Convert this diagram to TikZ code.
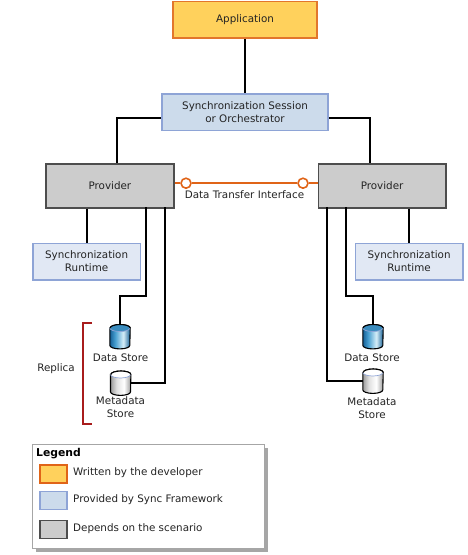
\documentclass[tikz,border=0pt]{standalone}
\usepackage{fontspec}
\setmainfont{DejaVu Sans}

\definecolor{appFill}{RGB}{255,209,92}
\definecolor{appLine}{RGB}{226,118,44}
\definecolor{fwFill}{RGB}{204,219,235}
\definecolor{fwLine}{RGB}{142,164,214}
\definecolor{rtFill}{RGB}{225,232,244}
\definecolor{provFill}{RGB}{204,204,204}
\definecolor{provLine}{RGB}{77,77,77}
\definecolor{iface}{RGB}{224,100,24}
\definecolor{bracket}{RGB}{168,28,28}
\definecolor{txt}{RGB}{35,35,35}
\definecolor{dataEdge}{RGB}{22,96,150}
\definecolor{dataMid}{RGB}{70,158,208}
\definecolor{dataHigh}{RGB}{214,238,248}
\definecolor{dataTop}{RGB}{58,140,190}
\definecolor{metaEdge}{RGB}{155,155,155}
\definecolor{metaMid}{RGB}{225,225,225}

\pgfdeclarehorizontalshading{dataBody}{100bp}{color(0bp)=(dataEdge); color(25bp)=(dataEdge);
  color(38bp)=(dataMid); color(58bp)=(dataHigh); color(75bp)=(dataEdge); color(100bp)=(dataEdge)}
\pgfdeclarehorizontalshading{metaBody}{100bp}{color(0bp)=(metaEdge); color(25bp)=(metaEdge);
  color(40bp)=(metaMid); color(58bp)=(white); color(75bp)=(metaEdge); color(100bp)=(metaEdge)}

\tikzset{
  label text/.style={font=\fontsize{10.35}{13}\selectfont, text=txt, align=center, inner sep=0pt},
  box/.style={draw, line width=1.7pt, anchor=north west, label text},
  conn/.style={black, line width=1.8pt},
  store/.style={minimum width=20pt, minimum height=24pt, inner sep=0pt, anchor=north},
  swatch/.style={draw, line width=1.7pt, minimum width=27pt, minimum height=18pt, inner sep=0pt, anchor=north west},
  socket/.style={circle, draw=iface, fill=white, line width=1.6pt, minimum size=10pt, inner sep=0pt}
}

% #1 node name, #2 body shading, #3 top colour
\newcommand{\storeShape}[3]{
  \draw[black, line width=1.1pt, shading=#2]
    ([yshift=-3.5pt]#1.north west) -- ([yshift=3.5pt]#1.south west) arc (180:360:10pt and 3.5pt)
    -- ([yshift=-3.5pt]#1.north east) arc (0:180:10pt and 3.5pt) -- cycle;
  \fill[#3] ([yshift=-3.5pt]#1.north west) arc (180:360:10pt and 3.5pt) arc (0:180:10pt and 3.5pt) -- cycle;
  \draw[fwLine, line width=.7pt]
    ([yshift=-3.5pt]#1.north west) arc (180:360:10pt and 3.5pt);
  \draw[black, line width=1.1pt]
    ([yshift=-3.5pt]#1.north east) arc (0:180:10pt and 3.5pt);
}

\begin{document}
\begin{tikzpicture}[x=1pt,y=-1pt,line cap=butt,line join=miter]

\path[use as bounding box] (0,0) rectangle (467,555);

% boxes
\node[box, fill=appFill, draw=appLine, minimum width=144pt, minimum height=36.5pt] (app) at (172.2,.6) {Application};
\node[box, fill=fwFill, draw=fwLine, minimum width=166pt, minimum height=36.5pt] (sess) at (161.2,93.2) {Synchronization Session\\or Orchestrator};
\node[box, fill=provFill, draw=provLine, minimum width=127.5pt, minimum height=44pt] (provL) at (45.3,163.2) {Provider};
\node[box, fill=provFill, draw=provLine, minimum width=127.5pt, minimum height=44pt] (provR) at (317.5,163.2) {Provider};
\node[box, fill=rtFill, draw=fwLine, minimum width=107.5pt, minimum height=36.5pt] (rtL) at (32,242.5) {Synchronization\\Runtime};
\node[box, fill=rtFill, draw=fwLine, minimum width=107.5pt, minimum height=36.5pt] (rtR) at (354.5,242.5) {Synchronization\\Runtime};

% stores
\node[store] (dataL) at (120,324.5) {};
\node[store] (metaL) at (120.7,371) {};
\node[store] (dataR) at (373,324.5) {};
\node[store] (metaR) at (373,369) {};
\storeShape{dataL}{dataBody}{dataTop}
\storeShape{metaL}{metaBody}{white}
\storeShape{dataR}{dataBody}{dataTop}
\storeShape{metaR}{metaBody}{white}

% store labels
\node[label text] (dataLbl) at (120.5,357.5) {Data Store};
\node[label text] (metaLbl) at (120.5,407.5) {Metadata\\Store};
\node[label text] (dataRLbl) at (372,358) {Data Store};
\node[label text] (metaRLbl) at (372,408.5) {Metadata\\Store};

% connectors
\coordinate (provLtop) at (116.6,163);
\coordinate (provRtop) at (370.2,163);
\coordinate (provLdata) at (146,207);
\coordinate (provLmeta) at (165,207);
\coordinate (provRdata) at (346,207);
\coordinate (provRmeta) at (327.2,207);
\coordinate (bendL) at (146,296.2);
\coordinate (bendR) at (346,296.2);
\draw[conn] (app.south) -- (sess.north);
\draw[conn] (sess.west |- 0,118) -| (provLtop);
\draw[conn] (sess.east |- 0,118) -| (provRtop);
\draw[conn] (provL.south -| rtL.north) -- (rtL.north);
\draw[conn] (provR.south -| rtR.north) -- (rtR.north);
\draw[conn] (provLdata) -- (bendL) -| (dataL.north);
\draw[conn] (provRdata) -- (bendR) -| (dataR.north);
\draw[conn] (provLmeta) |- (metaL.east);
\draw[conn] (provRmeta) |- (metaR.west);

% interface
\node[socket] (sockL) at (186,183.2) {};
\node[socket] (sockR) at (303,183.2) {};
\draw[iface, line width=1.7pt] (provL.east |- sockL) -- (sockL) (sockL) -- (sockR) (sockR) -- (provR.west |- sockR);
\node[label text] (ifaceLbl) at (244.5,194.5) {Data Transfer Interface};

% replica
\node[label text] (replica) at (56,368.5) {Replica};
\coordinate (brTop) at (92,323.1);
\coordinate (brBot) at (92,424);
\draw[bracket, line width=1.9pt] (brTop) -- ++(-8.9,0) |- (brBot);

% legend
\fill[black!35] (36,448) rectangle (268,552);
\node[draw=black!35, fill=white, line width=1.1pt, minimum width=232pt, minimum height=104pt, anchor=north west, inner sep=0pt] (legend) at (32,444) {};
\node[font=\fontsize{10.8}{12}\selectfont\bfseries, anchor=west, inner sep=0pt] (legendTitle) at (36,453.5) {Legend};
\node[swatch, fill=appFill, draw=iface] (swApp) at (39.3,464) {};
\node[swatch, fill=fwFill, draw=fwLine] (swFw) at (39.3,490.5) {};
\node[swatch, fill=provFill, draw=provLine] (swProv) at (39.3,519.7) {};
\node[label text, anchor=west] (txtApp) at (73,472.5) {Written by the developer};
\node[label text, anchor=west] (txtFw) at (73,499.5) {Provided by Sync Framework};
\node[label text, anchor=west] (txtProv) at (73,529) {Depends on the scenario};

\end{tikzpicture}
\end{document}
